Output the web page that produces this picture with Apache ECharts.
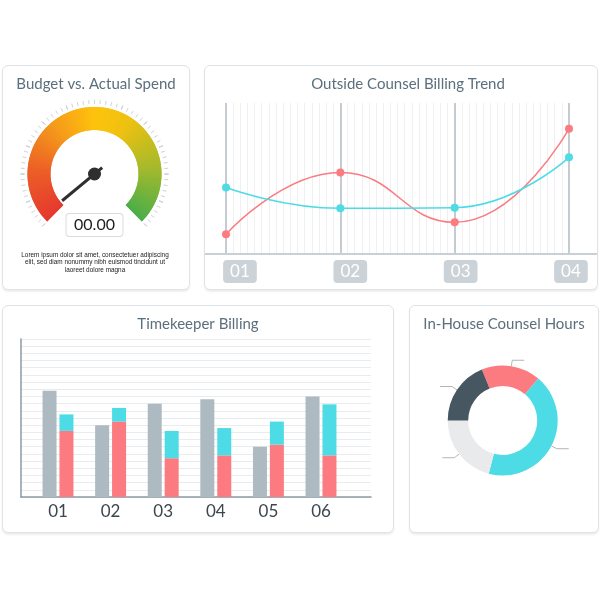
<!DOCTYPE html>
<html>
<head>
<meta charset="utf-8">
<title>Legal spend dashboard</title>
<script src="https://cdn.jsdelivr.net/npm/echarts@6/dist/echarts.min.js"></script>
<style>
  html, body { margin: 0; padding: 0; background: #fff; }
  body { width: 600px; height: 600px; position: relative; overflow: hidden; }
  .panel {
    position: absolute;
    box-sizing: border-box;
    border: 1px solid #dfe3e7;
    border-radius: 6px;
    background: #fff;
    box-shadow: 0 2px 2px rgba(0, 0, 0, 0.07);
  }
  .panel .chart { position: absolute; left: 0; top: 0; right: 0; bottom: 0; }
  #budget { left: 2px; top: 65px; width: 188px; height: 225px; }
  #trend { left: 204px; top: 65px; width: 394px; height: 225px; }
  #billing { left: 2px; top: 305px; width: 392px; height: 228px; }
  #hours { left: 409px; top: 305px; width: 190px; height: 228px; }
</style>
</head>
<body>
<div class="panel" id="budget"><div class="chart" id="budgetChart"></div></div>
<div class="panel" id="trend"><div class="chart" id="trendChart"></div></div>
<div class="panel" id="billing"><div class="chart" id="billingChart"></div></div>
<div class="panel" id="hours"><div class="chart" id="hoursChart"></div></div>
<script>
// gauge
const gaugeValue = 2;
const gaugeReadout = '00.00';
const gaugeNote = [
  'Lorem ipsum dolor sit amet, consectetuer adipiscing',
  'elit, sed diam nonummy nibh euismod tincidunt ut',
  'laoreet dolore magna'
];

// outside counsel trend
const trendLabels = ['01', '02', '03', '04'];
const trendRed = [13, 54, 21, 83];
const trendCyan = [44, 30.3, 30.7, 64];

// timekeeper billing
const billingLabels = ['01', '02', '03', '04', '05', '06'];
const billingGray = [14.8, 10.0, 13.0, 13.6, 7.0, 14.0];
const billingRed = [9.2, 10.5, 5.4, 5.8, 7.3, 5.8];
const billingCyan = [2.3, 1.9, 3.8, 3.8, 3.2, 7.1];

// in-house hours
const hoursNames = ['Segment A', 'Segment B', 'Segment C', 'Segment D'];
const hoursValues = [17.4, 42.9, 20.9, 18.8];

const RED = '#fb7b80';
const CYAN = '#4ddce6';
const GRAY = '#adbac1';
const hoursColors = [RED, CYAN, '#e9eaec', '#465761'];

const titleStyle = { color: '#5b6f7c', fontSize: 15, fontWeight: 'normal', fontFamily: 'Lato' };

// colour ramp along the gauge arc (red -> orange -> yellow -> green)
const gaugeColorStops = [
  [0, '#e5392f'], [0.18, '#ec5f27'], [0.35, '#f59a1b'], [0.5, '#fec30c'],
  [0.62, '#efc111'], [0.8, '#a9ba2a'], [1, '#4aae4a']
];

function hexToRgb(h) {
  return [1, 3, 5].map(i => parseInt(h.substr(i, 2), 16));
}
function mix(c1, c2, t) {
  const a = hexToRgb(c1), b = hexToRgb(c2);
  const c = a.map((v, i) => Math.round(v + (b[i] - v) * t));
  return 'rgb(' + c.join(',') + ')';
}
function colorAt(stops, m) {
  let k = 0;
  while (k < stops.length - 2 && m > stops[k + 1][0]) k++;
  const t = (m - stops[k][0]) / (stops[k + 1][0] - stops[k][0]);
  return mix(stops[k][1], stops[k + 1][1], Math.min(1, Math.max(0, t)));
}
// shift moves band edges by a fraction of a band, so a second layer hides the seams
function gaugeBands(stops, n, shift) {
  const bands = [];
  for (let i = 0; i <= n; i++) {
    const end = Math.min(1, (i + shift) / n);
    const start = Math.max(0, (i - 1 + shift) / n);
    if (end <= 0 || start >= 1) continue;
    bands.push([end, colorAt(stops, (start + end) / 2)]);
  }
  return bands;
}

function arcLayer(shift) {
  return {
    type: 'gauge',
    center: [91.5, 108],
    radius: 67,
    startAngle: 225,
    endAngle: -45,
    axisLine: { lineStyle: { width: 23, color: gaugeBands(gaugeColorStops, 90, shift) } },
    splitLine: { show: false },
    axisTick: { show: false },
    axisLabel: { show: false },
    pointer: { show: false },
    anchor: { show: false },
    title: { show: false },
    detail: { show: false },
    data: [{ value: 0 }]
  };
}

// ---- Budget vs. Actual Spend ----
const budgetChart = echarts.init(document.getElementById('budgetChart'));
budgetChart.setOption({
  animation: false,
  title: { text: 'Budget vs. Actual Spend', left: 'center', top: 6, textStyle: titleStyle },
  graphic: [{
    type: 'text',
    style: {
      x: 92, y: 185, text: gaugeNote.join('\n'),
      align: 'center', verticalAlign: 'top',
      font: '6.4px "Liberation Sans"', lineHeight: 7.5, fill: '#222'
    }
  }],
  series: [
    {
      type: 'gauge',
      center: [91.5, 108],
      radius: 74,
      startAngle: 225,
      endAngle: -45,
      splitNumber: 12,
      axisLine: { show: false, lineStyle: { width: 0 } },
      axisTick: { distance: 0, length: 4, splitNumber: 5, lineStyle: { color: '#cdd2d6', width: 1 } },
      splitLine: { distance: 0, length: 4, lineStyle: { color: '#cdd2d6', width: 1 } },
      axisLabel: { show: false },
      pointer: { show: false },
      anchor: { show: false },
      title: { show: false },
      detail: { show: false },
      data: [{ value: 0 }]
    },
    arcLayer(0.5),
    {
      type: 'gauge',
      center: [91.5, 108],
      radius: 67,
      startAngle: 225,
      endAngle: -45,
      min: 0,
      max: 100,
      axisLine: { lineStyle: { width: 23, color: gaugeBands(gaugeColorStops, 90, 0) } },
      splitLine: { show: false },
      axisTick: { show: false },
      axisLabel: { show: false },
      pointer: { icon: 'rect', length: 52, width: 3, offsetCenter: [0, 10], itemStyle: { color: '#2f2f2f' } },
      anchor: { show: true, showAbove: true, size: 13, itemStyle: { color: '#2f2f2f' } },
      title: { show: false },
      detail: {
        offsetCenter: [0, 51],
        formatter: () => gaugeReadout,
        fontSize: 16, fontFamily: 'Lato', fontWeight: 'normal', color: '#1e1e1e',
        backgroundColor: '#fff', borderColor: '#d8dcdf', borderWidth: 1, borderRadius: 3,
        width: 56, height: 22, lineHeight: 22, padding: 0
      },
      data: [{ value: gaugeValue }]
    }
  ]
});

// ---- Outside Counsel Billing Trend ----
const trendChart = echarts.init(document.getElementById('trendChart'));
trendChart.setOption({
  animation: false,
  title: { text: 'Outside Counsel Billing Trend', left: 198, textAlign: 'center', top: 6, textStyle: titleStyle },
  grid: [
    { left: 21, right: 28, top: 37, bottom: 35 },
    { left: 0, right: 0, top: 37, bottom: 35 }
  ],
  xAxis: [
    {
      type: 'value', gridIndex: 0, min: 1, max: 4, interval: 1,
      axisLine: { show: false }, axisTick: { show: false }, axisLabel: { show: false },
      splitLine: { show: true, lineStyle: { color: '#c4cbd1', width: 2 } },
      minorTick: { show: false, splitNumber: 16 },
      minorSplitLine: { show: true, lineStyle: { color: '#eef0f2', width: 1 } }
    },
    {
      // label strip under the plot, spaced a little tighter than the lines
      type: 'value', gridIndex: 1, min: 0.683, max: 4.236,
      axisLine: { show: true, lineStyle: { color: '#c9d0d5', width: 2 } },
      axisTick: { show: false },
      splitLine: { show: false },
      axisLabel: {
        customValues: [1, 2, 3, 4],
        formatter: v => trendLabels[Math.round(v) - 1],
        margin: 6, color: '#fff', fontSize: 17, fontFamily: 'Lato',
        backgroundColor: '#ccd3d8', borderRadius: 4, padding: [3, 7], lineHeight: 17
      }
    }
  ],
  yAxis: [
    { type: 'value', gridIndex: 0, min: 0, max: 100, show: false },
    { type: 'value', gridIndex: 1, min: 0, max: 100, show: false }
  ],
  series: [
    {
      type: 'line', xAxisIndex: 0, yAxisIndex: 0, smooth: true,
      data: trendRed.map((v, i) => [i + 1, v]),
      symbol: 'circle', symbolSize: 8,
      lineStyle: { color: RED, width: 1.5 }, itemStyle: { color: RED }
    },
    {
      type: 'line', xAxisIndex: 0, yAxisIndex: 0, smooth: true,
      data: trendCyan.map((v, i) => [i + 1, v]),
      symbol: 'circle', symbolSize: 8,
      lineStyle: { color: CYAN, width: 1.5 }, itemStyle: { color: CYAN }
    }
  ]
});

// ---- Timekeeper Billing ----
const billingChart = echarts.init(document.getElementById('billingChart'));
billingChart.setOption({
  animation: false,
  title: { text: 'Timekeeper Billing', left: 'center', top: 6, textStyle: titleStyle },
  grid: [
    { left: 18, width: 350, top: 33, bottom: 35 },
    { left: 28.7, width: 315.6, top: 33, bottom: 35 }
  ],
  xAxis: [
    {
      type: 'value', gridIndex: 0, min: 0, max: 1,
      axisLine: { show: true, lineStyle: { color: '#8c9aa4', width: 1.5 } },
      axisTick: { show: false }, axisLabel: { show: false }, splitLine: { show: false }
    },
    {
      type: 'category', gridIndex: 1, data: billingLabels,
      axisLine: { show: false }, axisTick: { show: false },
      axisLabel: { margin: 6, fontSize: 17, color: '#3d464d', fontFamily: 'Lato' }
    }
  ],
  yAxis: [
    {
      type: 'value', gridIndex: 0, min: 0, max: 22, interval: 1,
      axisLine: { show: true, lineStyle: { color: '#8c9aa4', width: 1.5 } },
      axisTick: { show: false }, axisLabel: { show: false },
      splitLine: { show: true, lineStyle: { color: '#e9ecee', width: 1 } }
    },
    { type: 'value', gridIndex: 1, min: 0, max: 22, show: false }
  ],
  series: [
    {
      type: 'bar', xAxisIndex: 1, yAxisIndex: 1, data: billingGray,
      barWidth: 14, barGap: '21%', itemStyle: { color: GRAY }
    },
    {
      type: 'bar', xAxisIndex: 1, yAxisIndex: 1, data: billingRed, stack: 'hrs',
      barWidth: 14, itemStyle: { color: RED }
    },
    {
      type: 'bar', xAxisIndex: 1, yAxisIndex: 1, data: billingCyan, stack: 'hrs',
      barWidth: 14, itemStyle: { color: CYAN }
    }
  ]
});

// ---- In-House Counsel Hours ----
const hoursChart = echarts.init(document.getElementById('hoursChart'));
hoursChart.setOption({
  animation: false,
  title: { text: 'In-House Counsel Hours', left: 'center', top: 6, textStyle: titleStyle },
  series: [{
    type: 'pie',
    center: [92.7, 114.5],
    radius: [34.5, 55],
    startAngle: 112.3,
    clockwise: true,
    avoidLabelOverlap: false,
    label: { show: true, formatter: ' ' },
    labelLine: { show: true, length: 6, length2: 12, lineStyle: { color: '#b5b5b5', width: 1 } },
    emphasis: { disabled: true },
    data: hoursValues.map((v, i) => ({ value: v, name: hoursNames[i], itemStyle: { color: hoursColors[i] } }))
  }]
});
</script>
</body>
</html>
